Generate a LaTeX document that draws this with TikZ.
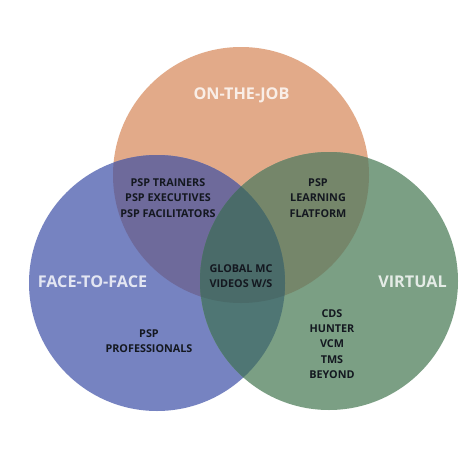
\documentclass[tikz,border=0pt]{standalone}
\usepackage{fontspec}
\setmainfont{Open Sans}
\definecolor{cTop}{HTML}{E2AA89}
\definecolor{cLeft}{HTML}{7683C1}
\definecolor{cRight}{HTML}{7B9F84}
\definecolor{cTL}{HTML}{6E6A9B}
\definecolor{cTR}{HTML}{75866A}
\definecolor{cLR}{HTML}{4F7674}
\definecolor{cAll}{HTML}{4A6B69}
\definecolor{cText}{HTML}{141820}
\tikzset{
  head/.style={text=white, text opacity=0.8, font=\fontsize{16.2}{19}\selectfont\bfseries, inner sep=0pt},
  inner/.style={text=cText, font=\fontsize{10.8}{15.4}\selectfont\bfseries, align=center, inner sep=0pt}
}
\begin{document}
\begin{tikzpicture}[x=1pt,y=-1pt]
\useasboundingbox (0,0) rectangle (474,474);
\fill[white] (0,0) rectangle (474,474);
\coordinate (T) at (241,175);
\coordinate (L) at (157,283);
\coordinate (R) at (329,281);
\def\rT{128}\def\rL{128}\def\rR{129}
% base circles
\fill[cTop] (T) circle[radius=\rT];
\fill[cLeft] (L) circle[radius=\rL];
\fill[cRight] (R) circle[radius=\rR];
% pairwise overlaps
\begin{scope}
  \clip (T) circle[radius=\rT];
  \fill[cTL] (L) circle[radius=\rL];
  \fill[cTR] (R) circle[radius=\rR];
\end{scope}
\begin{scope}
  \clip (L) circle[radius=\rL];
  \fill[cLR] (R) circle[radius=\rR];
\end{scope}
\begin{scope}
  \clip (T) circle[radius=\rT];
  \clip (L) circle[radius=\rL];
  \fill[cAll] (R) circle[radius=\rR];
\end{scope}
% headings
\node[head] (job) at (241.5,95.5) {ON-THE-JOB};
\node[head] (f2f) at (92.5,281.5) {FACE-TO-FACE};
\node[head] (virt) at (412.5,281.5) {VIRTUAL};
% region texts
\node[inner] (tl) at (168,198) {PSP TRAINERS\\PSP EXECUTIVES\\PSP FACILITATORS};
\node[inner] (tr) at (318,198) {PSP\\LEARNING\\FLATFORM};
\node[inner] (all) at (241,276) {GLOBAL MC\\VIDEOS W/S};
\node[inner] (lo) at (149,341) {PSP\\PROFESSIONALS};
\node[inner] (ro) at (332,344) {CDS\\HUNTER\\VCM\\TMS\\BEYOND};
\end{tikzpicture}
\end{document}
